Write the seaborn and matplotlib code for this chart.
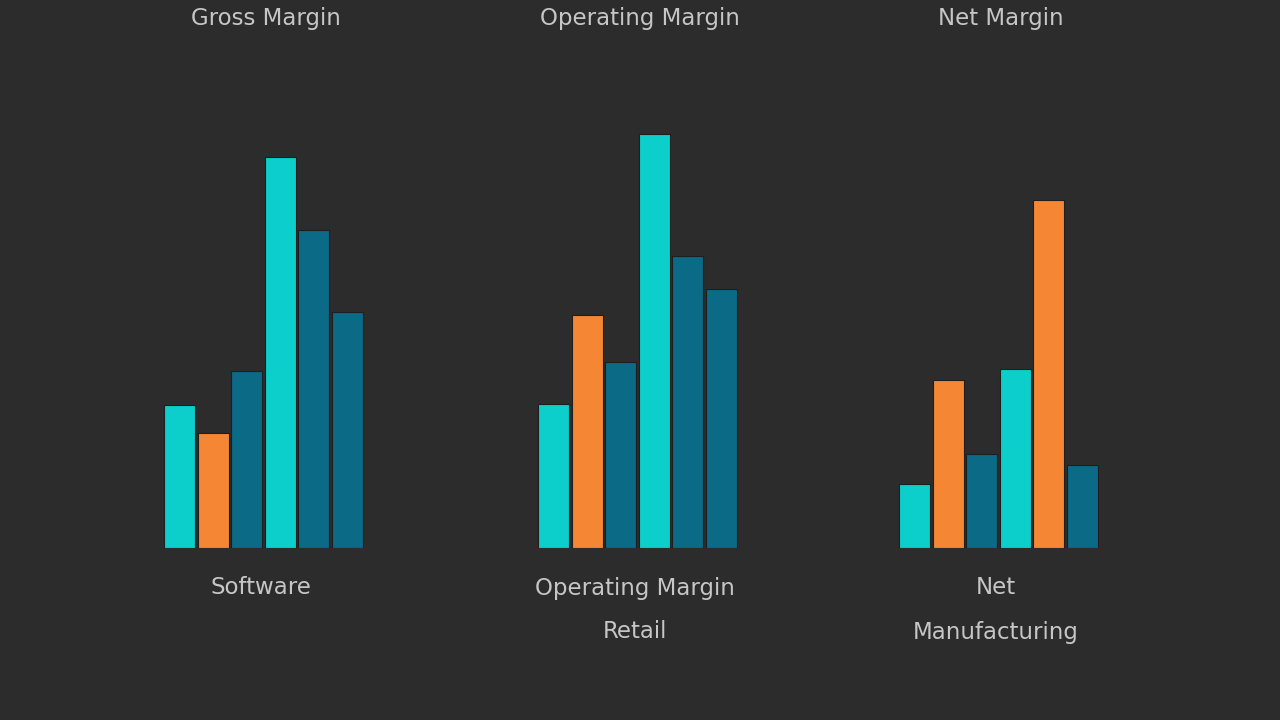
import pandas as pd
import matplotlib
matplotlib.use("Agg")
import matplotlib.pyplot as plt
import seaborn as sns

# -------------------------------
# Data
# -------------------------------
panel_titles = ["Gross Margin", "Operating Margin", "Net Margin"]
panel_label_top = ["Software", "Operating Margin", "Net"]
panel_label_bottom = ["", "Retail", "Manufacturing"]
bar_slots = ["B1", "B2", "B3", "B4", "B5", "B6"]

gross_values = [14.3, 11.5, 17.7, 39.1, 31.8, 23.6]
gross_series = ["Cyan", "Orange", "Teal", "Cyan", "Teal", "Teal"]

operating_values = [14.4, 23.3, 18.6, 41.4, 29.2, 25.9]
operating_series = ["Cyan", "Orange", "Teal", "Cyan", "Teal", "Teal"]

net_values = [6.4, 16.8, 9.4, 17.9, 34.8, 8.3]
net_series = ["Cyan", "Orange", "Teal", "Cyan", "Orange", "Teal"]

palette = {"Cyan": "#0ccfcc", "Orange": "#f58634", "Teal": "#0b6a85"}

BG = "#2c2c2c"
TEXT = "#c6c6c6"

sns.set_theme(style="dark")
plt.rcParams["font.family"] = ["DejaVu Sans"]

fig = plt.figure(figsize=(12.8, 7.2), dpi=100, facecolor=BG)

lefts = [163, 537, 898]
all_values = [gross_values, operating_values, net_values]
all_series = [gross_series, operating_series, net_series]

for i in range(3):
    ax = fig.add_axes([lefts[i] / 1280, 172 / 720, 201 / 1280, 448 / 720])
    ax.set_facecolor(BG)
    df = pd.DataFrame({"slot": bar_slots, "value": all_values[i], "series": all_series[i]})
    sns.barplot(data=df, x="slot", y="value", hue="series", palette=palette,
                dodge=False, width=0.93, saturation=1, edgecolor="#1e1e1e",
                linewidth=0.8, legend=False, ax=ax)
    ax.set_xlim(-0.5, 5.5)
    ax.set_ylim(0, 44.8)
    ax.set_xticks([])
    ax.set_yticks([])
    ax.set_xlabel("")
    ax.set_ylabel("")
    for s in ax.spines.values():
        s.set_visible(False)
    ax.grid(False)

    cx = (lefts[i] + 100) / 1280
    fig.text(cx + 3 / 1280, 1 - 19 / 720, panel_titles[i], ha="center",
             va="center", color=TEXT, fontsize=16.5)
    fig.text(cx - 2 / 1280, 1 - 588 / 720, panel_label_top[i], ha="center",
             va="center", color=TEXT, fontsize=16.5)
    if panel_label_bottom[i]:
        fig.text(cx - 2 / 1280, 1 - 632 / 720, panel_label_bottom[i],
                 ha="center", va="center", color=TEXT, fontsize=16.5)

fig.savefig("out.png", dpi=100, facecolor=BG)
